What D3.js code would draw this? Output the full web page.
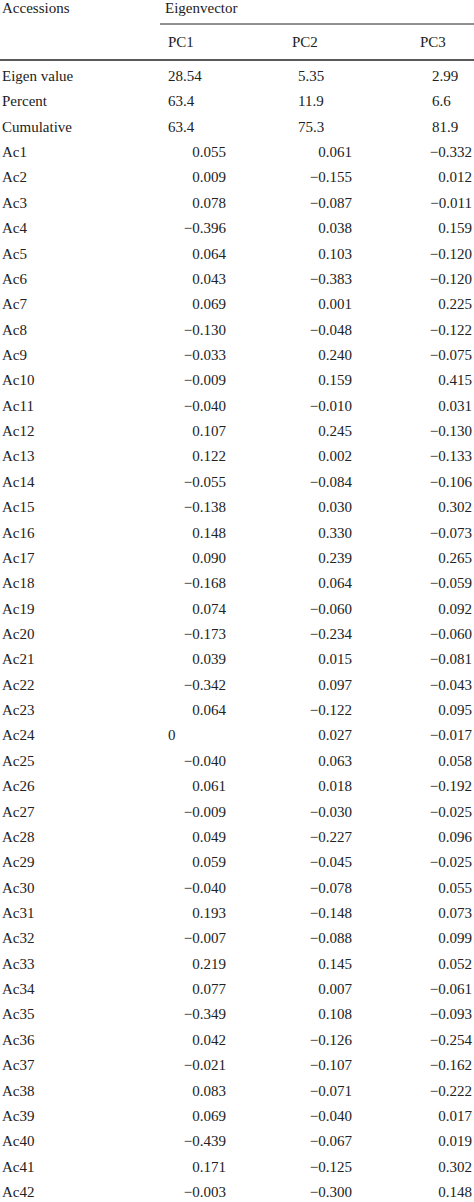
<!DOCTYPE html>
<html><head><meta charset="utf-8">
<script src="https://cdn.jsdelivr.net/npm/d3@7"></script>
<style>body{margin:0;background:#fff}text{font-family:"Liberation Serif","DejaVu Serif",serif;font-size:15px;fill:#222}</style>
</head><body><div id="chart"></div>
<script>
// Table data
const columns = ["PC1", "PC2", "PC3"];
const summaryRows = ["Eigen value", "Percent", "Cumulative"];
const summaryValues = [
  ["28.54", "5.35", "2.99"],
  ["63.4", "11.9", "6.6"],
  ["63.4", "75.3", "81.9"]
];
const accessions = d3.range(1, 43).map(i => "Ac" + i);
const pc1 = ["0.055","0.009","0.078","−0.396","0.064","0.043","0.069","−0.130","−0.033","−0.009","−0.040","0.107","0.122","−0.055","−0.138","0.148","0.090","−0.168","0.074","−0.173","0.039","−0.342","0.064","0","−0.040","0.061","−0.009","0.049","0.059","−0.040","0.193","−0.007","0.219","0.077","−0.349","0.042","−0.021","0.083","0.069","−0.439","0.171","−0.003"];
const pc2 = ["0.061","−0.155","−0.087","0.038","0.103","−0.383","0.001","−0.048","0.240","0.159","−0.010","0.245","0.002","−0.084","0.030","0.330","0.239","0.064","−0.060","−0.234","0.015","0.097","−0.122","0.027","0.063","0.018","−0.030","−0.227","−0.045","−0.078","−0.148","−0.088","0.145","0.007","0.108","−0.126","−0.107","−0.071","−0.040","−0.067","−0.125","−0.300"];
const pc3 = ["−0.332","0.012","−0.011","0.159","−0.120","−0.120","0.225","−0.122","−0.075","0.415","0.031","−0.130","−0.133","−0.106","0.302","−0.073","0.265","−0.059","0.092","−0.060","−0.081","−0.043","0.095","−0.017","0.058","−0.192","−0.025","0.096","−0.025","0.055","0.073","0.099","0.052","−0.061","−0.093","−0.254","−0.162","−0.222","0.017","0.019","0.302","0.148"];

const width = 474, height = 1202;
const svg = d3.select("#chart").append("svg").attr("width", width).attr("height", height);

const rowNames = summaryRows.concat(accessions);
const y = d3.scalePoint().domain(rowNames).range([76, 1192]);
const headX = d3.scaleOrdinal().domain(columns).range([168, 292, 420]);
const colLeft = d3.scaleOrdinal().domain(columns).range([168, 298, 432]);
const colRight = d3.scaleOrdinal().domain(columns).range([226, 352, 472]);

// header
svg.append("text").attr("x", 2).attr("y", 13).text("Accessions");
svg.append("text").attr("x", 165).attr("y", 13).text("Eigenvector");
svg.append("line").attr("x1", 160).attr("x2", width).attr("y1", 24).attr("y2", 24).attr("stroke", "#222");
svg.selectAll(".colhead").data(columns).join("text")
  .attr("x", d => headX(d)).attr("y", 47).text(d => d);
svg.append("line").attr("x1", 0).attr("x2", width).attr("y1", 60).attr("y2", 60).attr("stroke", "#222").attr("stroke-width", 1.5);

// row labels
svg.selectAll(".rowlab").data(rowNames).join("text")
  .attr("x", 2).attr("y", d => y(d) + 5).text(d => d);

// summary rows (left aligned)
summaryRows.forEach((r, i) => {
  svg.selectAll(null).data(summaryValues[i]).join("text")
    .attr("x", (d, j) => colLeft(columns[j])).attr("y", y(r) + 5).text(d => d);
});

// accession values (right aligned)
const cols = [pc1, pc2, pc3];
cols.forEach((vals, j) => {
  svg.selectAll(null).data(vals).join("text")
    .attr("x", d => d === "0" ? colLeft(columns[j]) : colRight(columns[j]))
    .attr("text-anchor", d => d === "0" ? "start" : "end")
    .attr("y", (d, i) => y(accessions[i]) + 5).text(d => d);
});
</script></body></html>
